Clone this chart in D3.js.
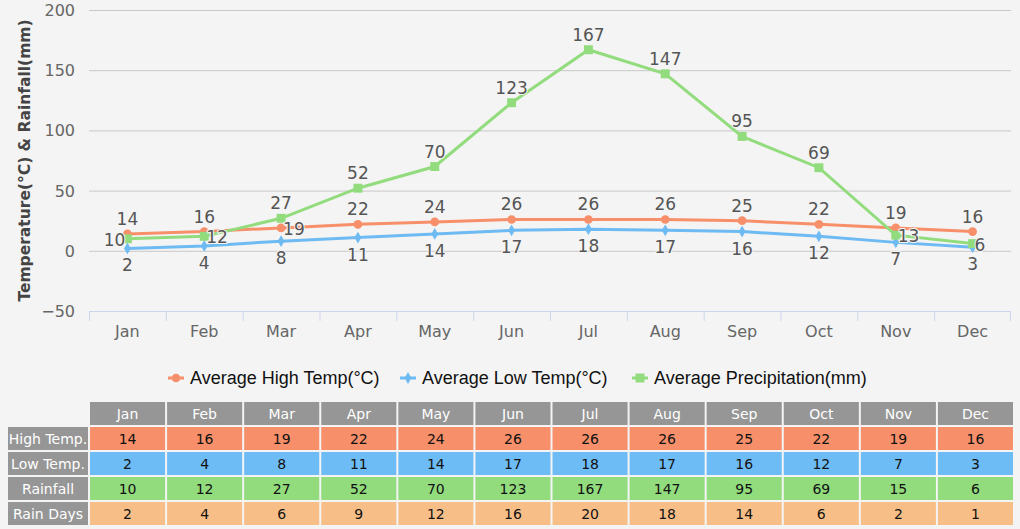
<!DOCTYPE html>
<html>
<head>
<meta charset="utf-8">
<script src="https://cdn.jsdelivr.net/npm/d3@7"></script>
<style>
  body { margin: 0; background: #f4f4f4; }
  svg { display: block; }
</style>
</head>
<body>
<div id="chart"></div>
<script>
// data
const months = ['Jan', 'Feb', 'Mar', 'Apr', 'May', 'Jun', 'Jul', 'Aug', 'Sep', 'Oct', 'Nov', 'Dec'];
const highTemp = [14, 16, 19, 22, 24, 26, 26, 26, 25, 22, 19, 16];
const lowTemp = [2, 4, 8, 11, 14, 17, 18, 17, 16, 12, 7, 3];
const rainChart = [10, 12, 27, 52, 70, 123, 167, 147, 95, 69, 13, 6];
const rainTable = [10, 12, 27, 52, 70, 123, 167, 147, 95, 69, 15, 6];
const rainDays = [2, 4, 6, 9, 12, 16, 20, 18, 14, 6, 2, 1];
const yTicks = [-50, 0, 50, 100, 150, 200];

const W = 1020, H = 529;
const svg = d3.select('#chart').append('svg').attr('width', W).attr('height', H);

const pLeft = 89, pRight = 1011, pTop = 10, pBottom = 311;
const x = d3.scaleBand().domain(months).range([pLeft, pRight]);
const cx = m => x(m) + x.bandwidth() / 2;
const y = d3.scaleLinear().domain([-50, 200]).range([pBottom, pTop]);

// grid
svg.append('g').selectAll('line').data(yTicks.filter(t => t !== -50)).join('line')
    .attr('x1', pLeft).attr('x2', pRight)
    .attr('y1', d => y(d) + 0.5).attr('y2', d => y(d) + 0.5)
    .attr('stroke', '#c8c8c8');

svg.append('g').selectAll('text').data(yTicks).join('text')
    .attr('x', 75).attr('y', d => y(d) + 6)
    .attr('text-anchor', 'end')
    .attr('font-family', 'DejaVu Sans, sans-serif').attr('font-size', 16)
    .attr('fill', '#666')
    .text(d => d < 0 ? '\u2212' + (-d) : d);

svg.append('text')
    .attr('transform', `translate(30,${(pTop + pBottom) / 2}) rotate(-90)`)
    .attr('text-anchor', 'middle')
    .attr('font-family', 'DejaVu Sans, sans-serif').attr('font-size', 15.5).attr('font-weight', 'bold')
    .attr('fill', '#444')
    .text('Temperature(\u00b0C) & Rainfall(mm)');

// x axis
svg.append('line').attr('x1', pLeft).attr('x2', pRight).attr('y1', pBottom + 0.5).attr('y2', pBottom + 0.5)
    .attr('stroke', '#ccd6eb');
svg.append('g').selectAll('line').data(months.map(m => x(m)).concat([pRight - 1])).join('line')
    .attr('x1', d => d + 0.5).attr('x2', d => d + 0.5)
    .attr('y1', pBottom).attr('y2', pBottom + 10)
    .attr('stroke', '#ccd6eb');
svg.append('g').selectAll('text').data(months).join('text')
    .attr('x', d => cx(d)).attr('y', 337)
    .attr('text-anchor', 'middle')
    .attr('font-family', 'DejaVu Sans, sans-serif').attr('font-size', 16)
    .attr('fill', '#666')
    .text(d => d);

const series = [
    { name: 'Average High Temp(\u00b0C)', values: highTemp, color: '#f7906a', symbol: d3.symbolCircle, size: 60, place: { 2: 'right' }, def: 'above' },
    { name: 'Average Low Temp(\u00b0C)', values: lowTemp, color: '#6ebaf3', symbol: d3.symbolDiamond, size: 40, place: {}, def: 'below' },
    { name: 'Average Precipitation(mm)', values: rainChart, color: '#92dc7e', symbol: d3.symbolSquare, size: 80, place: { 0: 'left', 1: 'right', 10: 'right', 11: 'right' }, def: 'above' }
];

const line = d3.line().x((d, i) => cx(months[i])).y(d => y(d));

series.forEach(s => {
    const g = svg.append('g');
    g.append('path').datum(s.values).attr('d', line)
        .attr('fill', 'none').attr('stroke', s.color).attr('stroke-width', 3);
    g.selectAll('path.pt').data(s.values).join('path').attr('class', 'pt')
        .attr('transform', (d, i) => `translate(${cx(months[i])},${y(d)})`)
        .attr('d', d3.symbol().type(s.symbol).size(s.size))
        .attr('fill', s.color);
});

// data labels drawn after lines
series.forEach(s => {
    svg.append('g').selectAll('text').data(s.values).join('text')
        .each(function (d, i) {
            const p = s.place[i] || s.def;
            const px = cx(months[i]), py = y(d);
            const t = d3.select(this);
            if (p === 'above') t.attr('x', px).attr('y', py - 9).attr('text-anchor', 'middle');
            else if (p === 'below') t.attr('x', px).attr('y', py + 23).attr('text-anchor', 'middle');
            else if (p === 'right') t.attr('x', px + 2).attr('y', py + 7).attr('text-anchor', 'start');
            else t.attr('x', px - 2).attr('y', py + 7).attr('text-anchor', 'end');
        })
        .attr('font-family', 'DejaVu Sans, sans-serif').attr('font-size', 17)
        .attr('fill', '#555')
        .attr('stroke', '#f4f4f4').attr('stroke-width', 2).attr('paint-order', 'stroke')
        .text(d => d);
});

// legend
const legendX = [168, 400, 632];
const lg = svg.append('g').selectAll('g').data(series).join('g')
    .attr('transform', (d, i) => `translate(${legendX[i]},378)`);
lg.append('line').attr('x1', 0).attr('x2', 16).attr('stroke', d => d.color).attr('stroke-width', 3);
lg.append('path').attr('transform', 'translate(8,0)')
    .attr('d', d => d3.symbol().type(d.symbol).size(d.size)()).attr('fill', d => d.color);
lg.append('text').attr('x', 22).attr('y', 6)
    .attr('font-family', 'Liberation Sans, Arial, sans-serif').attr('font-size', 18)
    .attr('fill', '#111')
    .text(d => d.name);

// table
const rows = [
    { label: 'High Temp.', values: highTemp, color: '#f7906a' },
    { label: 'Low Temp.', values: lowTemp, color: '#6ebcf5' },
    { label: 'Rainfall', values: rainTable, color: '#92dc7e' },
    { label: 'Rain Days', values: rainDays, color: '#f7bf87' }
];
const colX = d3.scaleBand().domain(months).range([89, 1014]);
const tbl = svg.append('g');
const rowY = i => 402 + i * 25;
const font = 'DejaVu Sans, Verdana, sans-serif';

const hdr = tbl.append('g').selectAll('g').data(months).join('g');
hdr.append('rect').attr('x', d => colX(d) + 1).attr('y', rowY(0))
    .attr('width', colX.bandwidth() - 2).attr('height', 23).attr('fill', '#969696');
hdr.append('text').attr('x', d => colX(d) + colX.bandwidth() / 2).attr('y', rowY(0) + 17)
    .attr('text-anchor', 'middle').attr('font-family', font).attr('font-size', 14)
    .attr('fill', '#fff').text(d => d);

rows.forEach((r, ri) => {
    const yy = rowY(ri + 1);
    tbl.append('rect').attr('x', 8).attr('y', yy).attr('width', 80).attr('height', 23).attr('fill', '#969696');
    tbl.append('text').attr('x', 48).attr('y', yy + 17).attr('text-anchor', 'middle')
        .attr('font-family', font).attr('font-size', 14).attr('fill', '#fff').text(r.label);
    const c = tbl.append('g').selectAll('g').data(r.values).join('g');
    c.append('rect').attr('x', (d, i) => colX(months[i]) + 1).attr('y', yy)
        .attr('width', colX.bandwidth() - 2).attr('height', 23).attr('fill', r.color);
    c.append('text').attr('x', (d, i) => colX(months[i]) + colX.bandwidth() / 2).attr('y', yy + 17)
        .attr('text-anchor', 'middle').attr('font-family', font).attr('font-size', 14)
        .attr('fill', '#111').text(d => d);
});
</script>
</body>
</html>
